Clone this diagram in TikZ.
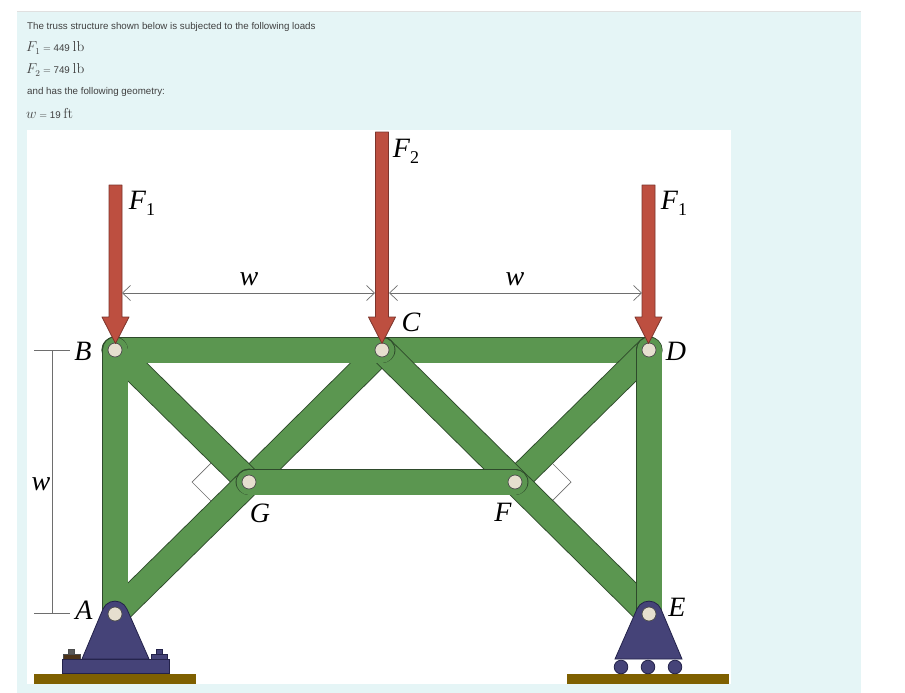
\documentclass[tikz,border=0pt]{standalone}
\usepackage[no-math]{fontspec}
\setmainfont{Liberation Sans}
\newfontfamily\trussfont{Liberation Serif}
\usetikzlibrary{arrows.meta}
\definecolor{panelbg}{HTML}{E5F5F6}
\definecolor{membergreen}{HTML}{5B9650}
\definecolor{memberedge}{HTML}{2E4A2B}
\definecolor{loadred}{HTML}{BD4F40}
\definecolor{loadedge}{HTML}{7C342B}
\definecolor{basepurple}{HTML}{454378}
\definecolor{baseedge}{HTML}{23224A}
\definecolor{pincream}{HTML}{E6DFCF}
\definecolor{groundbrown}{HTML}{7F6000}
\definecolor{dimgrey}{HTML}{6E6E6E}
\newcommand{\mathsized}[1]{{\fontsize{13.5}{14}\selectfont$#1$}}
\newcommand{\forcelabel}[2]{#1\raisebox{-0.22em}{\upshape\fontsize{18}{18}\selectfont #2}}
\tikzset{
  member/.style={draw=memberedge,line width=0.9pt,double=membergreen,double distance=25pt,line cap=round},
  support/.style={draw=baseedge,line width=0.8pt,fill=basepurple},
  hingepin/.style={circle,draw=black!70,line width=0.7pt,fill=pincream,minimum size=14pt,inner sep=0pt},
  dimline/.style={draw=dimgrey,line width=0.7pt},
  dimarrow/.style={dimline,{Straight Barb[length=8pt,width=15pt]}-{Straight Barb[length=8pt,width=15pt]}},
  loadarrow/.style={draw=loadedge,line width=0.8pt,fill=loadred,line join=round},
  truss label/.style={font=\trussfont\itshape\fontsize{28}{28}\selectfont,inner sep=0pt},
  prose/.style={anchor=base west,inner sep=0pt,text=black!75,font=\fontsize{9.75}{11}\selectfont}
}
\begin{document}
\begin{tikzpicture}[x=1pt,y=-1pt]
\useasboundingbox (0,0) rectangle (905,693);
\fill[white] (0,0) rectangle (905,693);
\fill[panelbg] (17,12) rectangle (861,693);
\draw[black!12,line width=1pt] (17,11.5) -- (861,11.5);
\fill[white] (27,130) rectangle (731,684);
% question text
\node[prose] (intro) at (27,30) {The truss structure shown below is subjected to the following loads};
\node[prose] (loadone) at (26,52) {\mathsized{F_1} $=$ 449 \mathsized{\mathrm{lb}}};
\node[prose] (loadtwo) at (26,74) {\mathsized{F_2} $=$ 749 \mathsized{\mathrm{lb}}};
\node[prose] (geom) at (27,95) {and has the following geometry:};
\node[prose] (width) at (26,118) {\mathsized{w} $=$ 19 \mathsized{\mathrm{ft}}};
% joints
\coordinate (A) at (115,614);
\coordinate (B) at (115,350);
\coordinate (C) at (382,350);
\coordinate (D) at (649,350);
\coordinate (E) at (649,614);
\coordinate (F) at (515,482);
\coordinate (G) at (249,482);
% right angle marks
\coordinate (gl) at (192,482);
\coordinate (gu) at (211,463);
\coordinate (gd) at (211,501);
\coordinate (fr) at (571,482);
\coordinate (fu) at (553,464);
\coordinate (fd) at (553,500);
\draw[dimline] (gu) -- (gl) -- (gd);
\draw[dimline] (fu) -- (fr) -- (fd);
% members, lowest first
\draw[member] (C) -- (D);
\draw[member] (G) -- (C);
\draw[member] (F) -- (D);
\draw[member] (B) -- (G);
\draw[member] (A) -- (G);
\draw[member] (C) -- (E);
\draw[member] (B) -- (C);
\draw[member] (A) -- (B);
\draw[member] (E) -- (D);
\draw[member] (G) -- (F);
% fixed support
\fill[groundbrown] (34,674) rectangle (196,684);
\fill[groundbrown] (567,674) rectangle (729,684);
\draw[draw=black!70,fill=black!65] (68,649) rectangle (74,654);
\draw[draw=black!70,fill=black!60!brown] (63,654) rectangle (80,659);
\draw[support] (156,649) rectangle (162,654);
\draw[support] (151,654) rectangle (167,659);
\draw[support] (62,659) rectangle (169,673);
\draw[support] (82,659) -- (103,609) arc (203:337:13) -- (149,659) -- cycle;
% roller support
\draw[support] (615,659) -- (637,609) arc (203:337:13) -- (682,659) -- cycle;
\foreach \x in {621,648,675}
  \draw[support] (\x,667) circle (6.8);
% pins
\node[hingepin] (pinA) at (A) {};
\node[hingepin] (pinB) at (B) {};
\node[hingepin] (pinC) at (C) {};
\node[hingepin] (pinD) at (D) {};
\node[hingepin] (pinE) at (E) {};
\node[hingepin] (pinF) at (F) {};
\node[hingepin] (pinG) at (G) {};
% loads
\foreach \x/\t in {115.5/185,382/132,648.5/185}
  \draw[loadarrow] (\x-6.5,\t) -- (\x+6.5,\t) -- (\x+6.5,317) -- (\x+13.5,317) -- (\x,343.5) -- (\x-13.5,317) -- (\x-6.5,317) -- cycle;
% dimensions
\coordinate (wa) at (122,293);
\coordinate (wb) at (375,293);
\coordinate (wc) at (389,293);
\coordinate (wd) at (642,293);
\draw[dimarrow] (wa) -- (wb);
\draw[dimarrow] (wc) -- (wd);
\coordinate (ta) at (34,350);
\coordinate (tb) at (70,350);
\coordinate (tm) at (52.5,350);
\coordinate (ba) at (34,613);
\coordinate (bb) at (70,613);
\coordinate (bm) at (52.5,613);
\draw[dimline] (ta) -- (tb);
\draw[dimline] (ba) -- (bb);
\draw[dimline] (tm) -- (bm);
% labels
\node[truss label] (lfa) at (142,203) {\forcelabel{F}{1}};
\node[truss label] (lfb) at (406,151) {\forcelabel{F}{2}};
\node[truss label] (lfc) at (674,203) {\forcelabel{F}{1}};
\node[truss label] (lwa) at (249,279) {w};
\node[truss label] (lwb) at (515,279) {w};
\node[truss label] (lwc) at (41,484) {w};
\node[truss label] (lA) at (84,610) {A};
\node[truss label] (lB) at (83,351) {B};
\node[truss label] (lC) at (411,322) {C};
\node[truss label] (lD) at (676,351) {D};
\node[truss label] (lE) at (677,607) {E};
\node[truss label] (lF) at (503,512) {F};
\node[truss label] (lG) at (260,513) {G};
\end{tikzpicture}
\end{document}
